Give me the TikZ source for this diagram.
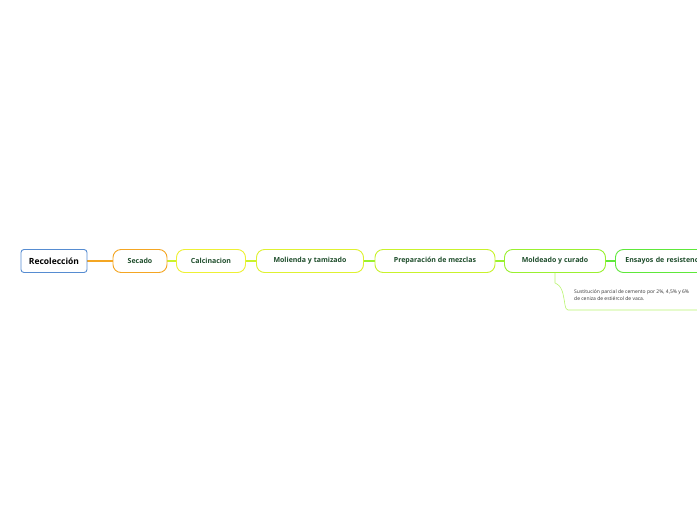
\documentclass[tikz,border=0pt]{standalone}
\usepackage{fontspec}
\setmainfont{Open Sans}
\begin{document}
\begin{tikzpicture}[x=1pt,y=-1pt,
  topic/.style={draw=#1,line width=0.9pt,rounded corners=8pt,minimum height=23pt,fill=white,font=\fontsize{7}{8}\selectfont\bfseries,text=tgreen,anchor=center},
  link/.style={line width=1.3pt}]
\definecolor{tgreen}{HTML}{1E4D2B}
\useasboundingbox (0,0) rectangle (697,520);
\clip (0,0) rectangle (697,520);
\definecolor{cA}{HTML}{F4A623}\definecolor{cB}{HTML}{D8E21C}\definecolor{cC}{HTML}{EEF035}
\definecolor{cD}{HTML}{C9F22C}\definecolor{cE}{HTML}{9AF030}\definecolor{cF}{HTML}{5EE83A}\definecolor{cG}{HTML}{3EDC2E}
\draw[link,draw=cA] (87,261) -- (113,261);
\draw[link,draw=cD] (167,261) -- (176,261);
\draw[link,draw=cD] (245,261) -- (256,261);
\draw[link,draw=cE] (363,261) -- (375,261);
\draw[link,draw=cE] (495,261) -- (504,261);
\draw[link,draw=cF] (605,261) -- (615,261);
\node[draw=cyan!50!blue!70,line width=0.9pt,rounded corners=3pt,minimum width=66pt,minimum height=23pt,font=\fontsize{8.5}{10}\selectfont\bfseries] (rec) at (54,261) {Recolección};
\node[topic=cA,minimum width=54pt] (sec) at (140,261) {Secado};
\node[topic=cC,minimum width=69pt] (cal) at (211,261) {Calcinacion};
\node[topic=cC!60!cD,minimum width=107pt] (mol) at (310,261) {Molienda y tamizado};
\node[topic=cD,minimum width=120pt] (pre) at (435,261) {Preparación de mezclas};
\node[topic=cE,minimum width=101pt] (mold) at (555,261) {Moldeado y curado};
\node[topic=cF,minimum width=130pt,anchor=west,text width=110pt,align=left] (ens) at (615,261) {Ensayos de resistencia};
\coordinate (s1) at (568,310);
\draw[draw=cE!70!white,line width=0.6pt] (mold.south) -- (555,283) .. controls (562,286) and (563,292) .. (565,305) .. controls (566,309) .. (s1) -- (700,310);
\node[anchor=north west,align=left,font=\fontsize{5}{7.5}\selectfont,text=black!80,inner sep=0pt] (txt) at (574,289) {Sustitución parcial de cemento por 2\%, 4,5\% y 6\%\\de ceniza de estiércol de vaca.};
\end{tikzpicture}
\end{document}
